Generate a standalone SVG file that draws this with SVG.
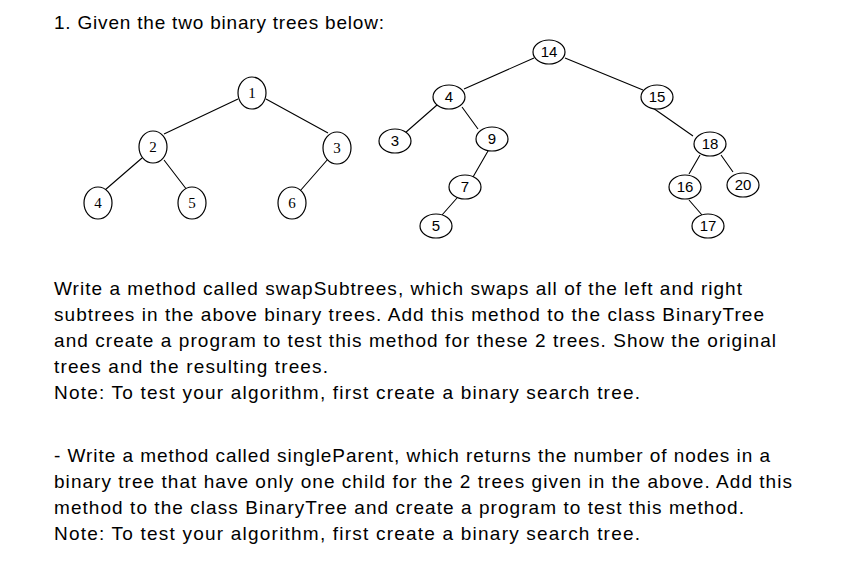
<svg xmlns="http://www.w3.org/2000/svg" width="847" height="580" viewBox="0 0 847 580">
<style>
.e{fill:#fff;stroke:#000;stroke-width:1.2}
.l{stroke:#000;stroke-width:1.1;fill:none}
.n1{font-family:"Liberation Serif",serif;font-size:15px;text-anchor:middle}
.n2{font-family:"Liberation Sans",sans-serif;font-size:15px;text-anchor:middle}
.t{font-family:"Liberation Sans",sans-serif;font-size:19px;fill:#000}
</style>
<rect width="847" height="580" fill="#fff"/>
<text class="t" x="54" y="29" textLength="330">1. Given the two binary trees below:</text>
<g id="connectors">
<path class="l" d="M238 99L164 134M266 99L328 133M142 158L105 190M164 160L187 190M328 159L300 191"/>
<path class="l" d="M534 58L464 89M565 58L643 90M437 105L405 133M462 107L478 129M653 108L693 136M488 151L473 177M700 155L689 174M721 155L733 172M457 198L442 215M689 200L702 215"/>
</g>
<g id="t1n1"><ellipse class="e" cx="252" cy="93" rx="14" ry="16"/><text class="n1" x="252" y="98">1</text></g>
<g id="t1n2"><ellipse class="e" cx="153" cy="147" rx="14" ry="16"/><text class="n1" x="153" y="152">2</text></g>
<g id="t1n3"><ellipse class="e" cx="337" cy="148" rx="14" ry="16"/><text class="n1" x="337" y="153">3</text></g>
<g id="t1n4"><ellipse class="e" cx="98" cy="203" rx="14" ry="16"/><text class="n1" x="98" y="208">4</text></g>
<g id="t1n5"><ellipse class="e" cx="192" cy="203" rx="14" ry="16"/><text class="n1" x="192" y="208">5</text></g>
<g id="t1n6"><ellipse class="e" cx="292" cy="203" rx="14" ry="16"/><text class="n1" x="292" y="208">6</text></g>
<g id="t2n14"><ellipse class="e" cx="549" cy="52" rx="16" ry="12"/><text class="n2" x="549" y="57">14</text></g>
<g id="t2n4"><ellipse class="e" cx="449" cy="97" rx="16" ry="12"/><text class="n2" x="449" y="102">4</text></g>
<g id="t2n15"><ellipse class="e" cx="657" cy="97" rx="16" ry="12"/><text class="n2" x="657" y="102">15</text></g>
<g id="t2n3"><ellipse class="e" cx="395" cy="141" rx="16" ry="12"/><text class="n2" x="395" y="146">3</text></g>
<g id="t2n9"><ellipse class="e" cx="492" cy="139" rx="16" ry="12"/><text class="n2" x="492" y="144">9</text></g>
<g id="t2n18"><ellipse class="e" cx="710" cy="144" rx="16" ry="12"/><text class="n2" x="710" y="149">18</text></g>
<g id="t2n7"><ellipse class="e" cx="465" cy="187" rx="16" ry="12"/><text class="n2" x="465" y="192">7</text></g>
<g id="t2n16"><ellipse class="e" cx="685" cy="187" rx="16" ry="12"/><text class="n2" x="685" y="192">16</text></g>
<g id="t2n20"><ellipse class="e" cx="743" cy="185" rx="16" ry="12"/><text class="n2" x="743" y="190">20</text></g>
<g id="t2n5"><ellipse class="e" cx="436" cy="226" rx="16" ry="12"/><text class="n2" x="436" y="231">5</text></g>
<g id="t2n17"><ellipse class="e" cx="708" cy="226" rx="16" ry="12"/><text class="n2" x="708" y="231">17</text></g>
<text class="t" x="54" y="295" textLength="688">Write a method called swapSubtrees, which swaps all of the left and right</text>
<text class="t" x="54" y="321" textLength="710">subtrees in the above binary trees. Add this method to the class BinaryTree</text>
<text class="t" x="54" y="347" textLength="722">and create a program to test this method for these 2 trees. Show the original</text>
<text class="t" x="54" y="373" textLength="274">trees and the resulting trees.</text>
<text class="t" x="54" y="399" textLength="586">Note: To test your algorithm, first create a binary search tree.</text>
<text class="t" x="54" y="462" textLength="716">- Write a method called singleParent, which returns the number of nodes in a</text>
<text class="t" x="54" y="488" textLength="738">binary tree that have only one child for the 2 trees given in the above. Add this</text>
<text class="t" x="54" y="514" textLength="690">method to the class BinaryTree and create a program to test this method.</text>
<text class="t" x="54" y="540" textLength="586">Note: To test your algorithm, first create a binary search tree.</text>
</svg>
